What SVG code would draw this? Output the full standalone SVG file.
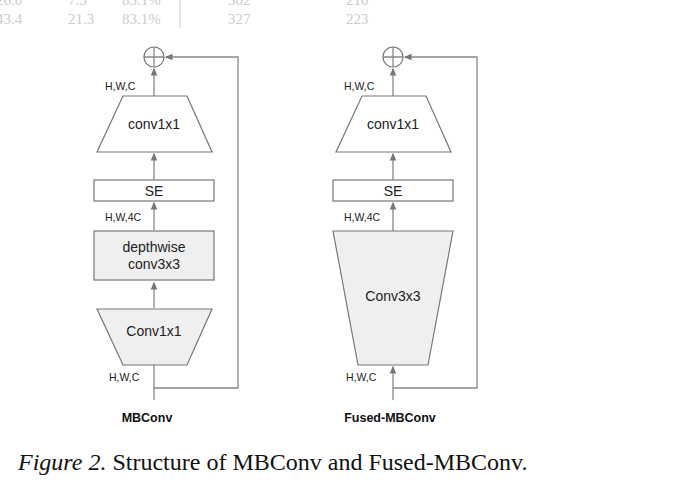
<svg xmlns="http://www.w3.org/2000/svg" width="683" height="480" viewBox="0 0 683 480">
<defs>
<marker id="ar" markerWidth="6" markerHeight="6" refX="5" refY="3" orient="auto"><path d="M0,0.5 L6,3 L0,5.5 z" fill="#777"/></marker>
<style>
.ln{stroke:#888;stroke-width:1.3;fill:none}
.bx{stroke:#777;stroke-width:1.2;fill:#fff}
.gy{stroke:#777;stroke-width:1.2;fill:#efefef}
.t{font-family:"Liberation Sans",Arial,sans-serif;font-size:14px;fill:#222;text-anchor:middle}
.s{font-family:"Liberation Sans",Arial,sans-serif;font-size:10.5px;fill:#222}
.b{font-family:"Liberation Sans",Arial,sans-serif;font-size:12.5px;font-weight:bold;fill:#111;text-anchor:middle}
.f{font-family:"Liberation Serif",serif;font-size:15px;fill:#ccc}
</style>
</defs>
<rect width="683" height="480" fill="#fff"/>
<g id="table-fragment">
<text class="f" x="-4" y="5">26.0</text><text class="f" x="68" y="5">7.5</text><text class="f" x="122" y="5">83.1%</text><text class="f" x="228" y="5">302</text><text class="f" x="346" y="5">210</text>
<text class="f" x="-4" y="24">43.4</text><text class="f" x="68" y="24">21.3</text><text class="f" x="122" y="24">83.1%</text><text class="f" x="228" y="24">327</text><text class="f" x="346" y="24">223</text>
<line x1="180" y1="0" x2="180" y2="28" stroke="#ccc"/>
</g>
<g id="connectors">
<path class="ln" d="M154,400 V311" marker-end="url(#ar)"/>
<path class="ln" d="M154,308 V283" marker-end="url(#ar)"/>
<path class="ln" d="M154,230 V203" marker-end="url(#ar)"/>
<path class="ln" d="M154,180 V154" marker-end="url(#ar)"/>
<path class="ln" d="M154,96 V69" marker-end="url(#ar)"/>
<path class="ln" d="M154,388 H238 V57 H166" marker-end="url(#ar)"/>
<path class="ln" d="M393,400 V367" marker-end="url(#ar)"/>
<path class="ln" d="M393,231 V203" marker-end="url(#ar)"/>
<path class="ln" d="M393,180 V154" marker-end="url(#ar)"/>
<path class="ln" d="M393,96 V69" marker-end="url(#ar)"/>
<path class="ln" d="M393,388 H477 V57 H405" marker-end="url(#ar)"/>
</g>
<g id="mb-add"><circle cx="154" cy="57" r="10" class="bx"/><path class="ln" d="M144,57 H164 M154,47 V67" stroke="#666"/></g>
<g id="mb-conv1x1-out"><polygon class="bx" points="123,96 187,96 212,152 97,152"/><text class="t" x="154" y="129">conv1x1</text></g>
<g id="mb-se"><rect class="bx" x="94" y="180" width="120" height="21"/><text class="t" x="154" y="196">SE</text></g>
<g id="mb-dw"><rect class="gy" x="94" y="231" width="120" height="49"/><text class="t" x="154" y="252">depthwise</text><text class="t" x="154" y="269">conv3x3</text></g>
<g id="mb-conv1x1-in"><polygon class="gy" points="97,309 212,309 187,365 123,365"/><text class="t" x="154" y="336">Conv1x1</text></g>
<g id="mb-labels"><text class="s" x="105" y="90">H,W,C</text><text class="s" x="105" y="221">H,W,4C</text><text class="s" x="109" y="381">H,W,C</text><text class="b" x="147" y="422">MBConv</text></g>
<g id="f-add"><circle cx="393" cy="57" r="10" class="bx"/><path class="ln" d="M383,57 H403 M393,47 V67" stroke="#666"/></g>
<g id="f-conv1x1"><polygon class="bx" points="362,96 426,96 451,152 336,152"/><text class="t" x="393" y="129">conv1x1</text></g>
<g id="f-se"><rect class="bx" x="333" y="180" width="120" height="21"/><text class="t" x="393" y="196">SE</text></g>
<g id="f-conv3x3"><polygon class="gy" points="333,231 453,231 428,365 358,365"/><text class="t" x="393" y="301">Conv3x3</text></g>
<g id="f-labels"><text class="s" x="344" y="90">H,W,C</text><text class="s" x="344" y="221">H,W,4C</text><text class="s" x="346" y="381">H,W,C</text><text class="b" x="390" y="422">Fused-MBConv</text></g>
<g id="caption"><text x="18" y="470" font-family="'Liberation Serif',serif" font-size="24" fill="#111"><tspan font-style="italic">Figure 2.</tspan> Structure of MBConv and Fused-MBConv.</text></g>
</svg>
